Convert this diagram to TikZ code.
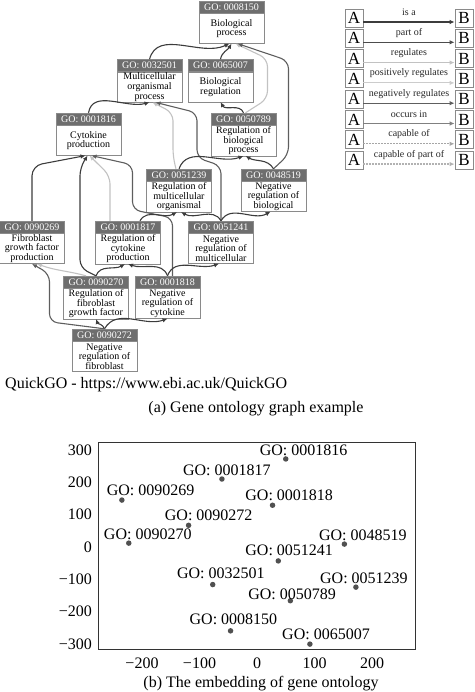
\documentclass[tikz,border=0pt]{standalone}
\usepackage{fontspec}
\setmainfont{Liberation Serif}
\usetikzlibrary{positioning,arrows.meta}

\definecolor{headgray}{HTML}{6E6E6E}
\definecolor{boxgray}{HTML}{8A8A8A}
\definecolor{isagray}{HTML}{3C3C3C}
\definecolor{neggray}{HTML}{5E5E5E}
\definecolor{reggray}{HTML}{C2C2C2}
\definecolor{dotgray}{HTML}{505050}

\newcommand\gofont{\fontsize{10}{9.6}\selectfont}
\newcommand\capfont{\fontsize{16}{18}\selectfont}
\newcommand\letterfont{\fontsize{17}{17}\selectfont}
\newcommand\legfont{\fontsize{10}{11}\selectfont}

\begin{document}
\begin{tikzpicture}[x=1pt, y=-1pt,
  gohead/.style={fill=headgray, draw=boxgray, text=white, minimum width=65pt, minimum height=12pt, inner sep=0pt, font=\gofont},
  gobody/.style={draw=boxgray, fill=white, minimum width=65pt, minimum height=30pt, inner sep=1pt, align=center, font=\gofont},
  isa/.style={draw=isagray, line width=1.1pt, -{Latex[length=5pt,width=4.5pt]}},
  negreg/.style={draw=neggray, line width=1.1pt, -{Latex[length=5pt,width=4.5pt]}},
  reg/.style={draw=reggray, line width=1.1pt, -{Latex[length=5pt,width=4.5pt]}},
  letter/.style={draw=boxgray, line width=0.8pt, minimum size=18pt, inner sep=0pt, font=\letterfont},
  legtext/.style={inner sep=0pt, font=\legfont, text=black!85},
  dot/.style={circle, fill=dotgray, inner sep=0pt, minimum size=5.5pt},
  ptlabel/.style={inner sep=0pt, font=\capfont},
  tick/.style={inner sep=0pt, font=\capfont}]
\useasboundingbox (0,0) rectangle (474,692);

% GO boxes
\node[gohead] (h8150) at (231.5,7) {GO: 0008150};
\node[gobody, below=0pt of h8150] (b8150) {Biological\\process};
\node[gohead] (h32501) at (149.5,65.5) {GO: 0032501};
\node[gobody, below=0pt of h32501] (b32501) {Multicellular\\organismal\\process};
\node[gohead] (h65007) at (220.5,65.5) {GO: 0065007};
\node[gobody, below=0pt of h65007] (b65007) {Biological\\regulation};
\node[gohead] (h1816) at (88.5,119) {GO: 0001816};
\node[gobody, below=0pt of h1816] (b1816) {Cytokine\\production};
\node[gohead] (h50789) at (243.5,119) {GO: 0050789};
\node[gobody, below=0pt of h50789] (b50789) {Regulation of\\biological\\process};
\node[gohead] (h51239) at (179,175) {GO: 0051239};
\node[gobody, below=0pt of h51239] (b51239) {Regulation of\\multicellular\\organismal};
\node[gohead] (h48519) at (273.5,175) {GO: 0048519};
\node[gobody, below=0pt of h48519] (b48519) {Negative\\regulation of\\biological};
\node[gohead] (h90269) at (32,227) {GO: 0090269};
\node[gobody, below=0pt of h90269] (b90269) {Fibroblast\\growth factor\\production};
\node[gohead] (h1817) at (128,227) {GO: 0001817};
\node[gobody, below=0pt of h1817] (b1817) {Regulation of\\cytokine\\production};
\node[gohead] (h51241) at (221,227) {GO: 0051241};
\node[gobody, below=0pt of h51241] (b51241) {Negative\\regulation of\\multicellular};
\node[gohead] (h90270) at (96,282) {GO: 0090270};
\node[gobody, below=0pt of h90270] (b90270) {Regulation of\\fibroblast\\growth factor};
\node[gohead] (h1818) at (167.5,282) {GO: 0001818};
\node[gobody, below=0pt of h1818] (b1818) {Negative\\regulation of\\cytokine};
\node[gohead] (h90272) at (104.5,335) {GO: 0090272};
\node[gobody, below=0pt of h90272] (b90272) {Negative\\regulation of\\fibroblast};

% relations
\draw[isa] (h32501.north) to[out=75,in=-155] ([xshift=-2pt]b8150.south);
\draw[isa] (h65007.north) to[out=80,in=-120] (b8150.south);
\draw[reg, rounded corners=8pt] ([xshift=2pt]h50789.north) -- ++(22,-14) -- ++(0,-40) -- ([xshift=4pt]b8150.south);
\draw[negreg, rounded corners=8pt] (h48519.north) -- ++(15,-14) -- ++(0,-94) -- ([xshift=6pt]b8150.south);
\draw[isa] (h50789.north) to[out=110,in=-60] (b65007.south);
\draw[isa] (h1816.north) to[out=80,in=-165] (b32501.south);
\draw[reg, rounded corners=8pt] ([xshift=-3pt]h51239.north) -- ++(-3,-12) -- ++(0,-44) -- ([xshift=3pt]b32501.south);
\draw[negreg, rounded corners=8pt] (h51241.north) -- ++(0,-55) -- ++(-24,-8) -- ++(0,-45) -- ([xshift=6pt]b32501.south);
\draw[isa] (h51239.north) to[out=70,in=-160] (b50789.south);
\draw[isa] (h48519.north) to[out=120,in=-30] ([xshift=2pt]b50789.south);

\draw[isa, rounded corners=10pt] (h90269.north) -- ++(0,-55) -- ([xshift=-3pt]b1816.south);
\draw[isa, rounded corners=8pt] (h90270.north) -- ++(-16,-8) -- ++(0,-100) -- ([xshift=-1pt]b1816.south);
\draw[reg, rounded corners=8pt] ([xshift=-18pt]h1817.north) -- ++(0,-45) -- ([xshift=1pt]b1816.south);
\draw[negreg, rounded corners=8pt] ([xshift=5pt]h1818.north) -- ++(0,-58) -- ++(-40,-8) -- ++(0,-45) -- ([xshift=3pt]b1816.south);
\draw[isa] ([xshift=12pt]h1817.north) to[out=60,in=-150] ([xshift=-2pt]b51239.south);
\draw[isa] (h51241.north) to[out=120,in=-30] ([xshift=2pt]b51239.south);
\draw[isa] (h51241.north) to[out=60,in=-150] ([xshift=-3pt]b48519.south);
\draw[isa] (h90270.north) to[out=70,in=-150] ([xshift=-3pt]b1817.south);
\draw[isa] (h1818.north) to[out=110,in=-20] (b1817.south);
\draw[isa] (h1818.north) to[out=70,in=-160] ([xshift=-2pt]b51241.south);
\draw[reg] ([xshift=-10pt]h90270.north) to[out=165,in=-20] ([xshift=5pt]b90269.south);
\draw[isa] (h90272.north) to[out=110,in=-70] (b90270.south);
\draw[isa] (h90272.north) to[out=60,in=-160] (b1818.south);
\draw[negreg, rounded corners=8pt] (h90272.north) -- ++(-55,-7) -- ++(0,-48) -- (b90269.south);

% legend
\node[letter] (a1) at (354,18) {A};
\node[letter] (b1) at (464,18) {B};
\draw[line width=1.2pt, draw=isagray, -{Latex[length=5pt,width=4.5pt]}] ([yshift=-4pt]a1.east) -- ([yshift=-4pt]b1.west) node[legtext, midway, yshift=9.5pt] (l1) {is a};
\node[letter] (a2) at (354,38.3) {A};
\node[letter] (b2) at (464,38.3) {B};
\draw[line width=1.2pt, draw=black!70, -{Latex[length=5pt,width=4.5pt]}] ([yshift=-4pt]a2.east) -- ([yshift=-4pt]b2.west) node[legtext, midway, yshift=9.5pt] (l2) {part of};
\node[letter] (a3) at (354,58.6) {A};
\node[letter] (b3) at (464,58.6) {B};
\draw[line width=1.2pt, draw=reggray, -{Latex[length=5pt,width=4.5pt]}] ([yshift=-4pt]a3.east) -- ([yshift=-4pt]b3.west) node[legtext, midway, yshift=9.5pt] (l3) {regulates};
\node[letter] (a4) at (354,78.9) {A};
\node[letter] (b4) at (464,78.9) {B};
\draw[line width=1.2pt, draw=black!20, -{Latex[length=5pt,width=4.5pt]}] ([yshift=-4pt]a4.east) -- ([yshift=-4pt]b4.west) node[legtext, midway, yshift=9.5pt] (l4) {positively regulates};
\node[letter] (a5) at (354,99.2) {A};
\node[letter] (b5) at (464,99.2) {B};
\draw[line width=1.2pt, draw=neggray, -{Latex[length=5pt,width=4.5pt]}] ([yshift=-4pt]a5.east) -- ([yshift=-4pt]b5.west) node[legtext, midway, yshift=9.5pt] (l5) {negatively regulates};
\node[letter] (a6) at (354,119.5) {A};
\node[letter] (b6) at (464,119.5) {B};
\draw[line width=1.2pt, draw=black!50, -{Latex[length=5pt,width=4.5pt]}] ([yshift=-4pt]a6.east) -- ([yshift=-4pt]b6.west) node[legtext, midway, yshift=9.5pt] (l6) {occurs in};
\node[letter] (a7) at (354,139.8) {A};
\node[letter] (b7) at (464,139.8) {B};
\draw[line width=1.2pt, draw=black!35, dash pattern=on 1.5pt off 1.5pt, -{Latex[length=5pt,width=4.5pt]}] ([yshift=-4pt]a7.east) -- ([yshift=-4pt]b7.west) node[legtext, midway, yshift=9.5pt] (l7) {capable of};
\node[letter] (a8) at (354,160.1) {A};
\node[letter] (b8) at (464,160.1) {B};
\draw[line width=1.2pt, draw=black!30, dash pattern=on 1.5pt off 1.5pt, -{Latex[length=5pt,width=4.5pt]}] ([yshift=-4pt]a8.east) -- ([yshift=-4pt]b8.west) node[legtext, midway, yshift=9.5pt] (l8) {capable of part of};

% captions
\node[anchor=west, inner sep=0pt, font=\capfont] (src) at (5,385) {QuickGO - https://www.ebi.ac.uk/QuickGO};
\node[inner sep=0pt, font=\capfont] (capa) at (256,409) {(a) Gene ontology graph example};
\node[inner sep=0pt, font=\capfont] (capb) at (261,684) {(b) The embedding of gene ontology};

% embedding
\begin{scope}[shift={(257pt,-547pt)}, x=0.575pt, y=0.3237pt]
\draw[line width=0.9pt, draw=black!80] (-276.5,-315) rectangle (274.8,324.4);
\node[tick, anchor=east] (y300) at (-287,300) {300};
\node[tick, anchor=east] (y200) at (-287,200) {200};
\node[tick, anchor=east] (y100) at (-287,100) {100};
\node[tick, anchor=east] (y0) at (-287,0) {0};
\node[tick, anchor=east] (ym100) at (-287,-100) {−100};
\node[tick, anchor=east] (ym200) at (-287,-200) {−200};
\node[tick, anchor=east] (ym300) at (-287,-300) {−300};
\node[tick] (xm200) at (-200,-358) {−200};
\node[tick] (xm100) at (-100,-358) {−100};
\node[tick] (x0) at (0,-358) {0};
\node[tick] (x100) at (100,-358) {100};
\node[tick] (x200) at (200,-358) {200};

\node[dot] (p1816) at (50,272) {};
\node[ptlabel] (t1816) at (81,300) {GO: 0001816};
\node[dot] (p1817) at (-61,210) {};
\node[ptlabel] (t1817) at (-52.5,238) {GO: 0001817};
\node[dot] (p90269) at (-235,145) {};
\node[ptlabel] (t90269) at (-185,176) {GO: 0090269};
\node[dot] (p1818) at (27,129) {};
\node[ptlabel] (t1818) at (56,161) {GO: 0001818};
\node[dot] (p90272) at (-119,67) {};
\node[ptlabel] (t90272) at (-84,99) {GO: 0090272};
\node[dot] (p90270) at (-223,12) {};
\node[ptlabel] (t90270) at (-190,40) {GO: 0090270};
\node[dot] (p48519) at (152,9) {};
\node[ptlabel] (t48519) at (184,36) {GO: 0048519};
\node[dot] (p51241) at (37,-43) {};
\node[ptlabel] (t51241) at (56,-9) {GO: 0051241};
\node[dot] (p32501) at (-77,-116) {};
\node[ptlabel] (t32501) at (-63,-81) {GO: 0032501};
\node[dot] (p51239) at (172,-124) {};
\node[ptlabel] (t51239) at (186,-97) {GO: 0051239};
\node[dot] (p50789) at (58,-166) {};
\node[ptlabel] (t50789) at (61,-145) {GO: 0050789};
\node[dot] (p8150) at (-46,-259) {};
\node[ptlabel] (t8150) at (-41,-223) {GO: 0008150};
\node[dot] (p65007) at (92,-300) {};
\node[ptlabel] (t65007) at (120,-270) {GO: 0065007};
\end{scope}

\end{tikzpicture}
\end{document}
